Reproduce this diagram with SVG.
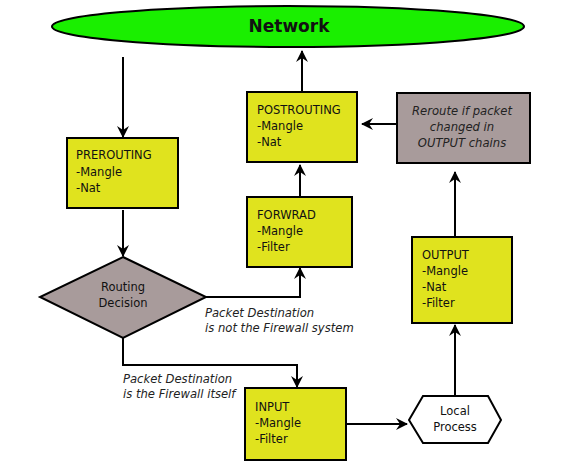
<svg xmlns="http://www.w3.org/2000/svg" width="587" height="475" viewBox="0 0 587 475">
<defs>
<marker id="ah" viewBox="0 0 12 12" refX="11" refY="6" markerWidth="12" markerHeight="12" markerUnits="userSpaceOnUse" orient="auto">
<path d="M0,0 L12,6 L0,12 L4,6 z" fill="#000"/>
</marker>
<style>
.box{fill:#e0e31e;stroke:#000;stroke-width:2}
.gray{fill:#a89b9b;stroke:#000;stroke-width:2}
.t{font-family:"DejaVu Sans",sans-serif;font-size:11.5px;fill:#111}
.i{font-family:"DejaVu Sans",sans-serif;font-size:11.6px;font-style:italic;fill:#222}
.c{text-anchor:middle}
.ln{fill:none;stroke:#000;stroke-width:2;marker-end:url(#ah)}
</style>
</defs>
<rect width="587" height="475" fill="#fff"/>
<g id="network">
<ellipse cx="288" cy="26.5" rx="236" ry="20.5" fill="#1aef00" stroke="#000" stroke-width="2"/>
<text x="289" y="32" class="c" font-family="DejaVu Sans,sans-serif" font-size="17" font-weight="bold" fill="#111">Network</text>
</g>
<g id="prerouting">
<rect x="67" y="138" width="111" height="70" class="box"/>
<text class="t" x="76" y="159">PREROUTING</text>
<text class="t" x="76" y="176">-Mangle</text>
<text class="t" x="76" y="192">-Nat</text>
</g>
<g id="routing">
<polygon points="123,257 206,297 123,338 40,297" class="gray"/>
<text class="t c" x="123" y="291">Routing</text>
<text class="t c" x="123" y="307">Decision</text>
</g>
<g id="forwrad">
<rect x="247" y="197" width="105" height="70" class="box"/>
<text class="t" x="257" y="219">FORWRAD</text>
<text class="t" x="257" y="235">-Mangle</text>
<text class="t" x="257" y="251">-Filter</text>
</g>
<g id="postrouting">
<rect x="247" y="92" width="110" height="70" class="box"/>
<text class="t" x="257" y="114">POSTROUTING</text>
<text class="t" x="257" y="130">-Mangle</text>
<text class="t" x="257" y="146">-Nat</text>
</g>
<g id="reroute">
<rect x="397" y="93" width="133" height="70" class="gray"/>
<text class="i c" x="462" y="115">Reroute if packet</text>
<text class="i c" x="462" y="131">changed in</text>
<text class="i c" x="462" y="147">OUTPUT chains</text>
</g>
<g id="output">
<rect x="412" y="237" width="100" height="86" class="box"/>
<text class="t" x="422" y="259">OUTPUT</text>
<text class="t" x="422" y="275">-Mangle</text>
<text class="t" x="422" y="291">-Nat</text>
<text class="t" x="422" y="307">-Filter</text>
</g>
<g id="input">
<rect x="245" y="388" width="101" height="72" class="box"/>
<text class="t" x="255" y="411">INPUT</text>
<text class="t" x="255" y="427">-Mangle</text>
<text class="t" x="255" y="443">-Filter</text>
</g>
<g id="local">
<polygon points="409,420 423,396 488,396 501,420 488,443 423,443" fill="#fff" stroke="#000" stroke-width="2"/>
<text class="t c" x="455" y="415">Local</text>
<text class="t c" x="455" y="431">Process</text>
</g>
<g id="connectors">
<path class="ln" d="M123,57 V137"/>
<path class="ln" d="M123,210 V256"/>
<path class="ln" d="M206,297 H300 V268"/>
<path class="ln" d="M300,197 V165"/>
<path class="ln" d="M302,92 V51"/>
<path class="ln" d="M397,124 H362"/>
<path class="ln" d="M455,237 V172"/>
<path class="ln" d="M455,396 V325"/>
<path class="ln" d="M346,424 H407"/>
<path class="ln" d="M123,338 V365 H297 V387"/>
</g>
<g id="labels">
<text class="i" x="205" y="317">Packet Destination</text>
<text class="i" x="205" y="332">is not the Firewall system</text>
<text class="i" x="123" y="383">Packet Destination</text>
<text class="i" x="123" y="398">is the Firewall itself</text>
</g>
</svg>
